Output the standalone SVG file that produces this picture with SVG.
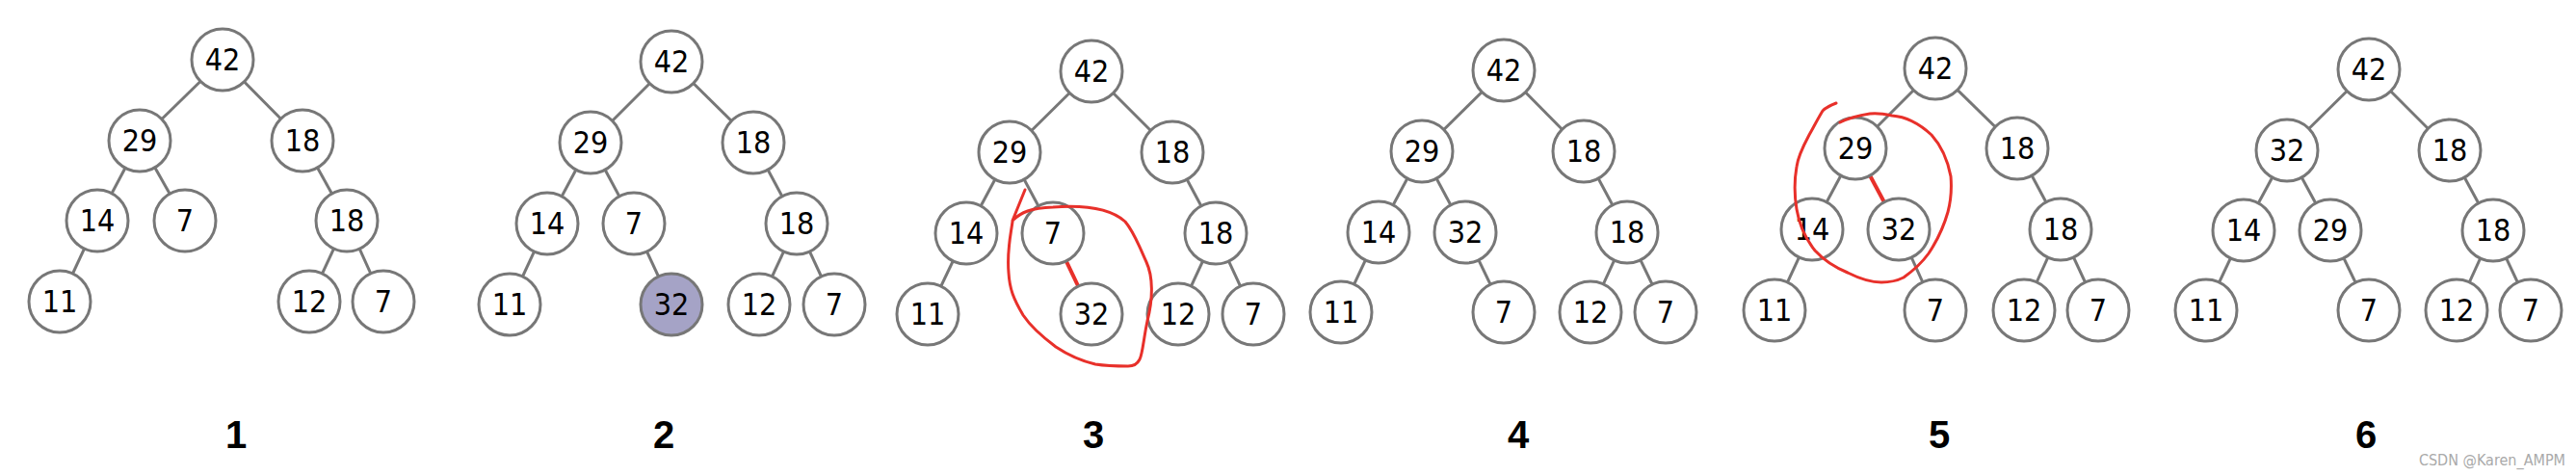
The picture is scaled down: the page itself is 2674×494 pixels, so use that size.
<svg xmlns="http://www.w3.org/2000/svg" width="2674" height="494" viewBox="0 0 2674 494">
<style>
.e line{stroke:#777;stroke-width:3}
.e line.r{stroke:#e8302a;stroke-width:4}
circle{fill:#fff;stroke:#777;stroke-width:3}
circle.h{fill:#a5a3c6}
.n text{font-family:"DejaVu Sans Condensed","Liberation Sans Narrow",sans-serif;font-size:32px;text-anchor:middle;dominant-baseline:central;fill:#000}
.lbl{font-family:"Liberation Sans","Arial",sans-serif;font-weight:bold;font-size:40px;text-anchor:middle}
.ink{fill:none;stroke:#e8302a;stroke-width:3;stroke-linecap:round;stroke-linejoin:round}
</style>
<g id="connectors" class="e">
<line x1="231" y1="62" x2="145" y2="146"/><line x1="231" y1="62" x2="314" y2="146"/><line x1="145" y1="146" x2="101" y2="229"/><line x1="145" y1="146" x2="192" y2="229"/><line x1="314" y1="146" x2="360" y2="229"/><line x1="101" y1="229" x2="62" y2="313"/><line x1="360" y1="229" x2="321" y2="313"/><line x1="360" y1="229" x2="398" y2="313"/>
<line x1="697" y1="64" x2="613" y2="148"/><line x1="697" y1="64" x2="782" y2="148"/><line x1="613" y1="148" x2="568" y2="232"/><line x1="613" y1="148" x2="658" y2="232"/><line x1="782" y1="148" x2="827" y2="232"/><line x1="568" y1="232" x2="529" y2="316"/><line x1="658" y1="232" x2="697" y2="316"/><line x1="827" y1="232" x2="788" y2="316"/><line x1="827" y1="232" x2="866" y2="316"/>
<line x1="1133" y1="74" x2="1048" y2="158"/><line x1="1133" y1="74" x2="1217" y2="158"/><line x1="1048" y1="158" x2="1003" y2="242"/><line x1="1048" y1="158" x2="1093" y2="242"/><line x1="1217" y1="158" x2="1262" y2="242"/><line x1="1003" y1="242" x2="963" y2="326"/><line class="r" x1="1093" y1="242" x2="1133" y2="326"/><line x1="1262" y1="242" x2="1223" y2="326"/><line x1="1262" y1="242" x2="1301" y2="326"/>
<line x1="1561" y1="73" x2="1476" y2="157"/><line x1="1561" y1="73" x2="1644" y2="157"/><line x1="1476" y1="157" x2="1431" y2="241"/><line x1="1476" y1="157" x2="1521" y2="241"/><line x1="1644" y1="157" x2="1689" y2="241"/><line x1="1431" y1="241" x2="1392" y2="324"/><line x1="1521" y1="241" x2="1561" y2="324"/><line x1="1689" y1="241" x2="1651" y2="324"/><line x1="1689" y1="241" x2="1729" y2="324"/>
<line x1="2009" y1="71" x2="1926" y2="154"/><line x1="2009" y1="71" x2="2094" y2="154"/><line x1="1926" y1="154" x2="1881" y2="238"/><line class="r" x1="1926" y1="154" x2="1971" y2="238"/><line x1="2094" y1="154" x2="2139" y2="238"/><line x1="1881" y1="238" x2="1842" y2="322"/><line x1="1971" y1="238" x2="2009" y2="322"/><line x1="2139" y1="238" x2="2101" y2="322"/><line x1="2139" y1="238" x2="2178" y2="322"/>
<line x1="2459" y1="72" x2="2374" y2="156"/><line x1="2459" y1="72" x2="2543" y2="156"/><line x1="2374" y1="156" x2="2329" y2="239"/><line x1="2374" y1="156" x2="2419" y2="239"/><line x1="2543" y1="156" x2="2588" y2="239"/><line x1="2329" y1="239" x2="2290" y2="322"/><line x1="2419" y1="239" x2="2459" y2="322"/><line x1="2588" y1="239" x2="2550" y2="322"/><line x1="2588" y1="239" x2="2627" y2="322"/>
</g>
<g id="tree1" class="n">
<circle cx="231" cy="62" r="32"/><text x="231" y="62">42</text>
<circle cx="145" cy="146" r="32"/><text x="145" y="146">29</text>
<circle cx="314" cy="146" r="32"/><text x="314" y="146">18</text>
<circle cx="101" cy="229" r="32"/><text x="101" y="229">14</text>
<circle cx="192" cy="229" r="32"/><text x="192" y="229">7</text>
<circle cx="360" cy="229" r="32"/><text x="360" y="229">18</text>
<circle cx="62" cy="313" r="32"/><text x="62" y="313">11</text>
<circle cx="321" cy="313" r="32"/><text x="321" y="313">12</text>
<circle cx="398" cy="313" r="32"/><text x="398" y="313">7</text>
</g>
<g id="tree2" class="n">
<circle cx="697" cy="64" r="32"/><text x="697" y="64">42</text>
<circle cx="613" cy="148" r="32"/><text x="613" y="148">29</text>
<circle cx="782" cy="148" r="32"/><text x="782" y="148">18</text>
<circle cx="568" cy="232" r="32"/><text x="568" y="232">14</text>
<circle cx="658" cy="232" r="32"/><text x="658" y="232">7</text>
<circle cx="827" cy="232" r="32"/><text x="827" y="232">18</text>
<circle cx="529" cy="316" r="32"/><text x="529" y="316">11</text>
<circle class="h" cx="697" cy="316" r="32"/><text x="697" y="316">32</text>
<circle cx="788" cy="316" r="32"/><text x="788" y="316">12</text>
<circle cx="866" cy="316" r="32"/><text x="866" y="316">7</text>
</g>
<g id="tree3" class="n">
<circle cx="1133" cy="74" r="32"/><text x="1133" y="74">42</text>
<circle cx="1048" cy="158" r="32"/><text x="1048" y="158">29</text>
<circle cx="1217" cy="158" r="32"/><text x="1217" y="158">18</text>
<circle cx="1003" cy="242" r="32"/><text x="1003" y="242">14</text>
<circle cx="1093" cy="242" r="32"/><text x="1093" y="242">7</text>
<circle cx="1262" cy="242" r="32"/><text x="1262" y="242">18</text>
<circle cx="963" cy="326" r="32"/><text x="963" y="326">11</text>
<circle cx="1133" cy="326" r="32"/><text x="1133" y="326">32</text>
<circle cx="1223" cy="326" r="32"/><text x="1223" y="326">12</text>
<circle cx="1301" cy="326" r="32"/><text x="1301" y="326">7</text>
</g>
<g id="tree4" class="n">
<circle cx="1561" cy="73" r="32"/><text x="1561" y="73">42</text>
<circle cx="1476" cy="157" r="32"/><text x="1476" y="157">29</text>
<circle cx="1644" cy="157" r="32"/><text x="1644" y="157">18</text>
<circle cx="1431" cy="241" r="32"/><text x="1431" y="241">14</text>
<circle cx="1521" cy="241" r="32"/><text x="1521" y="241">32</text>
<circle cx="1689" cy="241" r="32"/><text x="1689" y="241">18</text>
<circle cx="1392" cy="324" r="32"/><text x="1392" y="324">11</text>
<circle cx="1561" cy="324" r="32"/><text x="1561" y="324">7</text>
<circle cx="1651" cy="324" r="32"/><text x="1651" y="324">12</text>
<circle cx="1729" cy="324" r="32"/><text x="1729" y="324">7</text>
</g>
<g id="tree5" class="n">
<circle cx="2009" cy="71" r="32"/><text x="2009" y="71">42</text>
<circle cx="1926" cy="154" r="32"/><text x="1926" y="154">29</text>
<circle cx="2094" cy="154" r="32"/><text x="2094" y="154">18</text>
<circle cx="1881" cy="238" r="32"/><text x="1881" y="238">14</text>
<circle cx="1971" cy="238" r="32"/><text x="1971" y="238">32</text>
<circle cx="2139" cy="238" r="32"/><text x="2139" y="238">18</text>
<circle cx="1842" cy="322" r="32"/><text x="1842" y="322">11</text>
<circle cx="2009" cy="322" r="32"/><text x="2009" y="322">7</text>
<circle cx="2101" cy="322" r="32"/><text x="2101" y="322">12</text>
<circle cx="2178" cy="322" r="32"/><text x="2178" y="322">7</text>
</g>
<g id="tree6" class="n">
<circle cx="2459" cy="72" r="32"/><text x="2459" y="72">42</text>
<circle cx="2374" cy="156" r="32"/><text x="2374" y="156">32</text>
<circle cx="2543" cy="156" r="32"/><text x="2543" y="156">18</text>
<circle cx="2329" cy="239" r="32"/><text x="2329" y="239">14</text>
<circle cx="2419" cy="239" r="32"/><text x="2419" y="239">29</text>
<circle cx="2588" cy="239" r="32"/><text x="2588" y="239">18</text>
<circle cx="2290" cy="322" r="32"/><text x="2290" y="322">11</text>
<circle cx="2459" cy="322" r="32"/><text x="2459" y="322">7</text>
<circle cx="2550" cy="322" r="32"/><text x="2550" y="322">12</text>
<circle cx="2627" cy="322" r="32"/><text x="2627" y="322">7</text>
</g>
<g id="annotations">
<path class="ink" d="M1064,197 L1051,229 M1051,229 C1060,220 1070,216 1093,215 C1120,213 1150,214 1168,230 C1178,242 1183,257 1190,272 C1197,287 1197,310 1191,333 C1187,352 1186,368 1183,373 C1180,379 1175,380 1171,380 C1160,380 1150,380 1137,378 C1120,374 1105,366 1096,360 C1080,348 1068,336 1062,327 C1052,310 1048,300 1047,283 C1045,260 1049,245 1051,230"/>
<path class="ink" d="M1906,107 C1898,110 1894,113 1892,115 C1886,125 1882,133 1878,140 C1870,155 1866,165 1865,173 C1862,190 1863,205 1865,217 C1868,235 1876,250 1884,260 C1895,272 1906,278 1918,283 C1930,289 1943,293 1953,293 C1963,293 1970,291 1976,288 C1990,278 1997,270 2002,263 C2012,248 2018,234 2022,220 C2026,205 2026,195 2025,183 C2021,162 2014,150 2005,140 C1992,128 1978,121 1964,120 C1955,118 1948,117 1941,118 C1928,120 1918,123 1910,127"/>
<text class="lbl" x="245" y="465">1</text>
<text class="lbl" x="689" y="465">2</text>
<text class="lbl" x="1135" y="465">3</text>
<text class="lbl" x="1576" y="465">4</text>
<text class="lbl" x="2013" y="465">5</text>
<text class="lbl" x="2456" y="465">6</text>
<text x="2663" y="483" font-family="DejaVu Sans Condensed, Liberation Sans, sans-serif" font-size="16" fill="#aaa" text-anchor="end">CSDN @Karen_AMPM</text>
</g>
</svg>
